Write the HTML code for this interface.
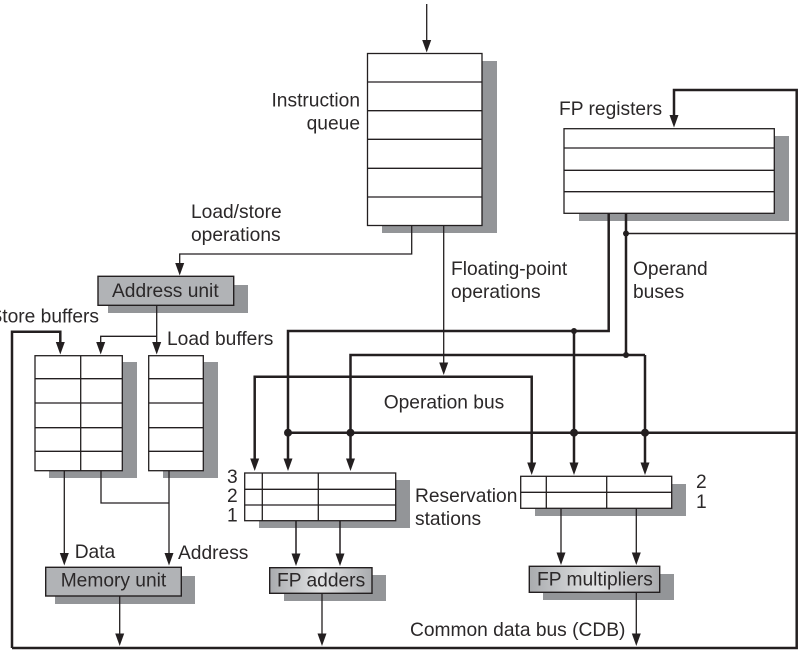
<!DOCTYPE html>
<html><head><meta charset="utf-8"><style>
html,body{margin:0;padding:0;background:#fff;width:809px;height:656px;overflow:hidden}
svg{display:block}
text{font-family:"Liberation Sans",sans-serif;font-size:19.2px;fill:#2b2829}
.s{fill:#939598}
.b{fill:#fff;stroke:#231f20;stroke-width:1.3}
.l{stroke:#231f20;stroke-width:1.3;fill:none}
.t{stroke:#231f20;stroke-width:1.5;fill:none}
.k{stroke:#231f20;stroke-width:2.5;fill:none}
.a{fill:#231f20}
.u{stroke:#231f20;stroke-width:1.4}
</style></head><body>
<svg width="809" height="656" viewBox="0 0 809 656" xmlns="http://www.w3.org/2000/svg">
<defs>
<linearGradient id="g"><stop offset="0" stop-color="#a9abae"/><stop offset=".5" stop-color="#e2e3e4"/><stop offset="1" stop-color="#a9abae"/></linearGradient>
<path id="h" d="M-4.5,-12.5H4.5L0,0Z"/>
</defs>

<!-- shadows -->
<rect class="s" x="382" y="61" width="115" height="172"/>
<rect class="s" x="579" y="136" width="210" height="85"/>
<rect class="s" x="108" y="285" width="140" height="28"/>
<rect class="s" x="49" y="362" width="88" height="116"/>
<rect class="s" x="163" y="362" width="55" height="116"/>
<rect class="s" x="259" y="480" width="151" height="48"/>
<rect class="s" x="535" y="484" width="151" height="32"/>
<rect class="s" x="55" y="576" width="140" height="28"/>
<rect class="s" x="284" y="575" width="102" height="26"/>
<rect class="s" x="543" y="574" width="131" height="26"/>

<!-- instruction queue -->
<rect class="b" x="367.5" y="53.5" width="114.5" height="172"/>
<path class="l" d="M367.5 82H482M367.5 110.7H482M367.5 139.3H482M367.5 168.3H482M367.5 197H482"/>

<!-- FP registers -->
<rect class="b" x="564" y="128.7" width="210.3" height="84.6"/>
<path class="l" d="M564 148H774M564 170.3H774M564 191.7H774"/>

<!-- store / load buffers -->
<rect class="b" x="35" y="355.7" width="87.3" height="115"/>
<path class="l" d="M80.7 355.7V470.7M35 378.7H122M35 403H122M35 427.7H122M35 451.3H122"/>
<rect class="b" x="148.7" y="355.7" width="54.6" height="115"/>
<path class="l" d="M148.7 378.7H203M148.7 403H203M148.7 427.7H203M148.7 451.3H203"/>

<!-- reservation stations -->
<rect class="b" x="244.7" y="473" width="151" height="47.7"/>
<path class="l" d="M244.7 489.3H395.7M244.7 505H395.7M262.3 473V520.7M318.3 473V520.7"/>
<rect class="b" x="520.7" y="476.3" width="151" height="32"/>
<path class="l" d="M520.7 492.3H671.7M546.3 476.3V508.3M606.7 476.3V508.3"/>

<!-- units -->
<rect x="98" y="276.3" width="135.7" height="29" fill="#b1b3b6" class="u"/>
<rect x="45.7" y="567.3" width="135.6" height="28.7" fill="#b1b3b6" class="u"/>
<rect x="269.7" y="567.7" width="102.3" height="25.6" fill="url(#g)" class="u"/>
<rect x="529.3" y="566.3" width="130.4" height="26" fill="url(#g)" class="u"/>

<!-- thin connectors -->
<path class="l" d="M426.7 4V42"/>
<path class="l" d="M411.7 225.5V254H179.7V265"/>
<path class="l" d="M443.7 225.5V365"/>
<path class="l" d="M156.7 305.3V342M156.7 336.3H100.7V342"/>
<path class="l" d="M64.3 470.7V553M169 470.7V553M101 470.7V503H169"/>
<path class="t" d="M296 520.7V555M340 520.7V555"/>
<path class="l" d="M561 508.3V553M636.3 508.3V553M636.3 592.3V635"/>
<path class="l" d="M119.7 596V635M322 593.3V635"/>

<!-- thick buses -->
<path class="k" d="M12 648V331.7H60.3V343"/>
<path class="k" d="M12 648H796.7V90H674V116"/>
<path class="t" d="M626 233.5H796.7"/>
<path class="k" d="M608.7 213.3V331H288V459"/>
<path class="k" d="M626 213.3V355"/>
<path class="k" d="M645 355H350.5V459"/>
<path class="k" d="M645 355V463"/>
<path class="k" d="M574 331V463"/>
<path class="k" d="M288 432.7H796.7"/>
<path class="k" d="M254.7 459V376.7H531.7V463"/>

<!-- dots -->
<g class="a">
<circle cx="626" cy="233.5" r="3"/><circle cx="574" cy="331" r="3"/><circle cx="626" cy="355" r="3"/>
<circle cx="288" cy="432.7" r="4"/><circle cx="350.5" cy="432.7" r="4"/><circle cx="574" cy="432.7" r="4"/><circle cx="645" cy="432.7" r="4"/>
</g>

<!-- arrowheads -->
<g class="a">
<use href="#h" x="426.7" y="52.5"/>
<use href="#h" x="674" y="127.5"/>
<use href="#h" x="179.7" y="275.5"/>
<use href="#h" x="443.7" y="375"/>
<use href="#h" x="60.3" y="354.5"/>
<use href="#h" x="100.7" y="354.5"/>
<use href="#h" x="156.7" y="354.5"/>
<use href="#h" x="254.7" y="471"/>
<use href="#h" x="288" y="471"/>
<use href="#h" x="350.5" y="471"/>
<use href="#h" x="531.7" y="475"/>
<use href="#h" x="574" y="475"/>
<use href="#h" x="645" y="475"/>
<use href="#h" x="64.3" y="565.5"/>
<use href="#h" x="169" y="565.5"/>
<use href="#h" x="296" y="566"/>
<use href="#h" x="340" y="566"/>
<use href="#h" x="561" y="565"/>
<use href="#h" x="636.3" y="565"/>
<use href="#h" x="119.7" y="646"/>
<use href="#h" x="322" y="646"/>
<use href="#h" x="636.3" y="646"/>
</g>

<!-- labels -->
<text x="360" y="106.5" text-anchor="end">Instruction</text>
<text x="360" y="129.5" text-anchor="end">queue</text>
<text x="559" y="115">FP registers</text>
<text x="191" y="218">Load/store</text>
<text x="191" y="241">operations</text>
<text x="451" y="275">Floating-point</text>
<text x="451" y="298">operations</text>
<text x="633" y="275">Operand</text>
<text x="633" y="298">buses</text>
<text x="112" y="297">Address unit</text>
<text x="99" y="322.5" text-anchor="end">Store buffers</text>
<text x="167" y="345">Load buffers</text>
<text x="383.7" y="408.5">Operation bus</text>
<text x="227" y="483">3</text>
<text x="227" y="502">2</text>
<text x="227" y="521.5">1</text>
<text x="415" y="502">Reservation</text>
<text x="415" y="525">stations</text>
<text x="696" y="488">2</text>
<text x="696" y="508">1</text>
<text x="74.7" y="558">Data</text>
<text x="178" y="559">Address</text>
<text x="60.7" y="586.5">Memory unit</text>
<text x="277" y="586.5">FP adders</text>
<text x="537" y="585.5">FP multipliers</text>
<text x="410" y="636">Common data bus (CDB)</text>
</svg>
</body></html>
